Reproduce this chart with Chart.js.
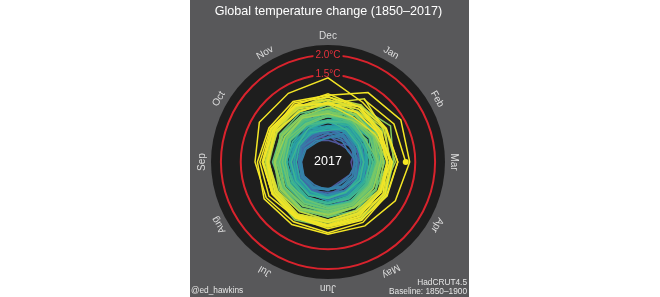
<!DOCTYPE html>
<html>
<head>
<meta charset="utf-8">
<script src="https://cdn.jsdelivr.net/npm/chart.js@4.4.1/dist/chart.umd.min.js"></script>
<style>
  html, body { margin: 0; padding: 0; background: #ffffff; }
  #panel { position: absolute; left: 190px; top: 0; width: 279px; height: 297px; background: #58585a; }
</style>
</head>
<body>
<div id="panel"><canvas id="spiral"></canvas></div>
<script>
// month labels, Jan sits 30 degrees clockwise from the top
const months = ['Jan', 'Feb', 'Mar', 'Apr', 'May', 'Jun', 'Jul', 'Aug', 'Sep', 'Oct', 'Nov', 'Dec'];

// temperature change vs 1850-1900 (degC)
const years = [1850, 1853, 1856, 1859, 1862, 1865, 1868, 1871, 1874, 1877, 1880, 1883, 1886, 1889, 1892, 1895, 1898,
  1901, 1904, 1907, 1910, 1913, 1916, 1919, 1922, 1925, 1928, 1931, 1934, 1937, 1940, 1943, 1946, 1949,
  1952, 1955, 1958, 1961, 1964, 1967, 1970, 1973, 1976,
  1978, 1979, 1980, 1981, 1982, 1983, 1984, 1985, 1986, 1987, 1988, 1989, 1990, 1991, 1992, 1993, 1994,
  1995, 1996, 1997, 1998, 1999, 2000, 2001, 2002, 2003, 2004, 2005, 2006, 2007, 2008, 2009, 2010, 2011,
  2012, 2013, 2014, 2015, 2016, 2017];

const anomalies = [
  [-0.18, 0.14, -0.12, 0.08, 0.02, 0.15, 0.22, 0.17, 0.05, -0.02, -0.06, 0.00],
  [0.17, 0.03, 0.24, 0.20, 0.14, 0.22, 0.27, 0.18, 0.12, 0.20, 0.22, 0.08],
  [0.08, 0.00, -0.06, 0.10, 0.02, 0.14, 0.08, 0.17, 0.05, -0.03, 0.02, -0.08],
  [0.24, 0.17, 0.27, 0.32, 0.22, 0.17, 0.24, 0.20, 0.14, 0.22, 0.08, 0.20],
  [-0.16, -0.10, 0.02, -0.06, -0.12, 0.00, 0.07, 0.02, -0.03, 0.04, -0.08, -0.15],
  [0.27, 0.17, 0.14, 0.24, 0.20, 0.12, 0.22, 0.17, 0.24, 0.14, 0.20, 0.12],
  [0.02, 0.17, 0.12, 0.22, 0.27, 0.20, 0.24, 0.14, 0.17, 0.12, 0.05, 0.14],
  [-0.03, 0.07, 0.22, 0.17, 0.12, 0.14, 0.20, 0.16, 0.10, 0.04, -0.03, 0.02],
  [0.22, 0.14, 0.07, 0.20, 0.24, 0.17, 0.12, 0.18, 0.22, 0.16, 0.12, 0.20],
  [0.17, 0.27, 0.24, 0.32, 0.37, 0.42, 0.40, 0.44, 0.50, 0.47, 0.52, 0.57],
  [0.27, 0.22, 0.17, 0.20, 0.14, 0.07, 0.14, 0.17, 0.10, 0.04, 0.02, 0.07],
  [0.10, 0.02, 0.07, 0.14, 0.17, 0.22, 0.12, 0.07, 0.02, 0.04, 0.07, 0.14],
  [0.02, 0.07, 0.14, 0.20, 0.17, 0.12, 0.18, 0.14, 0.17, 0.07, 0.10, 0.12],
  [0.22, 0.37, 0.30, 0.34, 0.27, 0.24, 0.22, 0.27, 0.20, 0.17, 0.12, 0.14],
  [-0.08, 0.02, -0.03, 0.07, 0.04, 0.14, 0.10, 0.07, 0.04, 0.00, -0.12, -0.06],
  [0.04, -0.03, 0.12, 0.17, 0.14, 0.16, 0.20, 0.14, 0.18, 0.12, 0.10, 0.17],
  [0.22, 0.07, 0.02, 0.14, 0.07, 0.12, 0.14, 0.10, 0.12, 0.02, 0.04, 0.10],
  [0.17, 0.12, 0.27, 0.24, 0.22, 0.27, 0.24, 0.20, 0.22, 0.17, 0.12, 0.14],
  [0.07, 0.02, -0.03, 0.00, -0.06, 0.02, -0.03, 0.00, 0.02, 0.07, 0.12, 0.04],
  [-0.03, -0.13, 0.02, -0.06, -0.08, 0.00, 0.02, 0.04, 0.00, 0.07, -0.03, 0.02],
  [0.04, 0.00, -0.03, 0.02, 0.00, -0.03, 0.02, 0.00, -0.03, -0.06, -0.13, -0.08],
  [0.07, 0.02, 0.04, 0.10, 0.02, 0.00, 0.04, 0.07, 0.04, 0.10, 0.17, 0.20],
  [0.14, 0.07, 0.02, 0.07, 0.04, 0.00, 0.07, 0.04, 0.00, -0.03, -0.08, -0.10],
  [0.22, 0.14, 0.17, 0.24, 0.14, 0.12, 0.20, 0.17, 0.22, 0.20, 0.10, 0.17],
  [0.17, 0.12, 0.22, 0.20, 0.17, 0.14, 0.18, 0.16, 0.14, 0.22, 0.20, 0.17],
  [0.14, 0.20, 0.24, 0.22, 0.20, 0.22, 0.24, 0.27, 0.24, 0.27, 0.32, 0.34],
  [0.32, 0.27, 0.22, 0.24, 0.22, 0.20, 0.27, 0.24, 0.26, 0.28, 0.27, 0.22],
  [0.26, 0.20, 0.23, 0.28, 0.30, 0.33, 0.36, 0.30, 0.28, 0.33, 0.26, 0.30],
  [0.18, 0.13, 0.20, 0.23, 0.26, 0.28, 0.23, 0.26, 0.23, 0.20, 0.22, 0.18],
  [0.23, 0.33, 0.26, 0.30, 0.33, 0.36, 0.38, 0.40, 0.43, 0.40, 0.36, 0.33],
  [0.33, 0.43, 0.38, 0.46, 0.43, 0.40, 0.48, 0.46, 0.50, 0.48, 0.46, 0.56],
  [0.28, 0.38, 0.30, 0.40, 0.36, 0.33, 0.38, 0.40, 0.36, 0.46, 0.43, 0.48],
  [0.38, 0.33, 0.26, 0.30, 0.20, 0.18, 0.26, 0.23, 0.28, 0.23, 0.26, 0.18],
  [0.26, 0.13, 0.20, 0.23, 0.18, 0.20, 0.23, 0.20, 0.26, 0.23, 0.18, 0.20],
  [0.38, 0.36, 0.28, 0.30, 0.33, 0.32, 0.36, 0.34, 0.36, 0.28, 0.26, 0.32],
  [0.26, 0.18, 0.13, 0.16, 0.20, 0.18, 0.23, 0.20, 0.16, 0.18, 0.13, 0.16],
  [0.58, 0.56, 0.48, 0.43, 0.46, 0.40, 0.44, 0.42, 0.40, 0.43, 0.46, 0.44],
  [0.46, 0.53, 0.48, 0.50, 0.46, 0.44, 0.42, 0.46, 0.40, 0.38, 0.43, 0.36],
  [0.28, 0.23, 0.20, 0.16, 0.18, 0.20, 0.16, 0.13, 0.10, 0.13, 0.16, 0.10],
  [0.36, 0.28, 0.38, 0.33, 0.30, 0.32, 0.34, 0.36, 0.33, 0.40, 0.33, 0.30],
  [0.43, 0.50, 0.38, 0.36, 0.34, 0.33, 0.32, 0.30, 0.36, 0.33, 0.38, 0.30],
  [0.53, 0.63, 0.60, 0.56, 0.53, 0.50, 0.48, 0.46, 0.44, 0.42, 0.38, 0.36],
  [0.23, 0.18, 0.20, 0.23, 0.18, 0.22, 0.26, 0.24, 0.23, 0.18, 0.28, 0.36],
  [0.40, 0.37, 0.43, 0.41, 0.37, 0.35, 0.39, 0.33, 0.40, 0.43, 0.50, 0.45],
  [0.43, 0.35, 0.45, 0.47, 0.43, 0.50, 0.45, 0.50, 0.53, 0.55, 0.60, 0.67],
  [0.53, 0.60, 0.50, 0.55, 0.57, 0.53, 0.50, 0.51, 0.49, 0.47, 0.53, 0.45],
  [0.70, 0.65, 0.63, 0.57, 0.55, 0.60, 0.57, 0.61, 0.55, 0.50, 0.57, 0.65],
  [0.40, 0.43, 0.35, 0.40, 0.45, 0.43, 0.47, 0.40, 0.45, 0.43, 0.45, 0.60],
  [0.67, 0.73, 0.65, 0.60, 0.63, 0.57, 0.55, 0.61, 0.57, 0.53, 0.60, 0.50],
  [0.45, 0.40, 0.50, 0.43, 0.53, 0.40, 0.43, 0.45, 0.47, 0.43, 0.37, 0.33],
  [0.47, 0.35, 0.43, 0.45, 0.47, 0.43, 0.40, 0.45, 0.43, 0.47, 0.40, 0.45],
  [0.50, 0.53, 0.51, 0.49, 0.47, 0.50, 0.45, 0.47, 0.45, 0.51, 0.49, 0.53],
  [0.53, 0.60, 0.50, 0.57, 0.60, 0.63, 0.67, 0.63, 0.70, 0.67, 0.65, 0.75],
  [0.77, 0.67, 0.73, 0.70, 0.71, 0.69, 0.65, 0.67, 0.63, 0.61, 0.57, 0.60],
  [0.47, 0.57, 0.55, 0.57, 0.50, 0.53, 0.57, 0.60, 0.55, 0.57, 0.53, 0.61],
  [0.58, 0.60, 0.82, 0.68, 0.62, 0.60, 0.64, 0.60, 0.56, 0.70, 0.72, 0.66],
  [0.65, 0.68, 0.58, 0.70, 0.62, 0.68, 0.70, 0.65, 0.62, 0.55, 0.58, 0.56],
  [0.58, 0.62, 0.55, 0.48, 0.50, 0.45, 0.40, 0.42, 0.38, 0.40, 0.38, 0.46],
  [0.55, 0.52, 0.54, 0.52, 0.50, 0.48, 0.50, 0.46, 0.45, 0.48, 0.42, 0.50],
  [0.52, 0.40, 0.58, 0.56, 0.55, 0.58, 0.54, 0.56, 0.60, 0.62, 0.64, 0.60],
  [0.70, 0.82, 0.66, 0.68, 0.62, 0.68, 0.70, 0.72, 0.66, 0.68, 0.65, 0.55],
  [0.52, 0.62, 0.55, 0.52, 0.55, 0.54, 0.58, 0.56, 0.52, 0.50, 0.60, 0.58],
  [0.55, 0.62, 0.68, 0.62, 0.70, 0.78, 0.72, 0.78, 0.85, 0.88, 0.85, 0.86],
  [0.92, 1.12, 0.95, 0.98, 0.96, 0.94, 0.98, 0.90, 0.82, 0.80, 0.76, 0.82],
  [0.78, 0.90, 0.62, 0.62, 0.60, 0.62, 0.68, 0.64, 0.66, 0.64, 0.62, 0.68],
  [0.52, 0.72, 0.70, 0.78, 0.62, 0.64, 0.66, 0.68, 0.64, 0.56, 0.58, 0.52],
  [0.68, 0.65, 0.80, 0.76, 0.78, 0.80, 0.82, 0.84, 0.78, 0.80, 0.88, 0.80],
  [0.96, 0.98, 1.00, 0.84, 0.82, 0.84, 0.86, 0.80, 0.82, 0.78, 0.80, 0.74],
  [0.96, 0.84, 0.80, 0.80, 0.82, 0.80, 0.84, 0.90, 0.88, 0.96, 0.84, 0.94],
  [0.84, 0.96, 0.86, 0.84, 0.72, 0.76, 0.74, 0.76, 0.80, 0.86, 0.92, 0.78],
  [0.90, 0.80, 0.92, 0.94, 0.90, 0.92, 0.94, 0.88, 0.92, 0.94, 0.90, 0.86],
  [0.76, 0.86, 0.80, 0.80, 0.78, 0.88, 0.86, 0.88, 0.86, 0.92, 0.88, 0.96],
  [1.14, 0.92, 0.88, 0.92, 0.84, 0.80, 0.82, 0.80, 0.82, 0.80, 0.76, 0.78],
  [0.60, 0.68, 0.92, 0.76, 0.74, 0.76, 0.82, 0.78, 0.80, 0.88, 0.84, 0.76],
  [0.84, 0.80, 0.78, 0.82, 0.84, 0.88, 0.94, 0.92, 0.94, 0.90, 0.92, 0.88],
  [0.92, 0.98, 1.06, 1.02, 0.98, 0.94, 0.92, 0.90, 0.84, 0.86, 0.96, 0.76],
  [0.74, 0.76, 0.80, 0.84, 0.80, 0.82, 0.86, 0.84, 0.82, 0.84, 0.76, 0.82],
  [0.74, 0.76, 0.80, 0.90, 0.94, 0.92, 0.90, 0.92, 0.96, 0.96, 0.94, 0.78],
  [0.90, 0.84, 0.86, 0.82, 0.88, 0.90, 0.88, 0.92, 0.94, 0.90, 1.02, 0.94],
  [0.90, 0.76, 0.92, 0.96, 1.00, 0.98, 0.92, 1.02, 1.02, 0.98, 0.96, 1.02],
  [1.04, 1.00, 1.06, 1.00, 1.06, 1.08, 1.04, 1.10, 1.14, 1.30, 1.30, 1.42],
  [1.32, 1.42, 1.36, 1.26, 1.16, 1.12, 1.12, 1.16, 1.08, 1.02, 1.06, 0.98],
  [1.12, 1.22, 1.26, null, null, null, null, null, null, null, null, null]
];

const ringValues = [1.5, 2.0];
const ringLabels = ['1.5°C', '2.0°C'];
const currentYear = '2017';

// colour by year, purple -> blue -> teal -> green -> yellow
const colourStops = [
  [0.00, [84, 78, 150]],
  [0.25, [64, 108, 168]],
  [0.45, [46, 142, 170]],
  [0.65, [40, 170, 160]],
  [0.80, [72, 186, 138]],
  [0.88, [126, 202, 98]],
  [0.94, [214, 222, 50]],
  [0.97, [240, 228, 40]],
  [1.00, [246, 232, 36]]
];
function yearColour(y) {
  const t = (y - years[0]) / (years[years.length - 1] - years[0]);
  for (let i = 1; i < colourStops.length; i++) {
    const [t1, c1] = colourStops[i];
    const [t0, c0] = colourStops[i - 1];
    if (t <= t1) {
      const f = (t - t0) / (t1 - t0);
      const c = c0.map((v, k) => Math.round(v + (c1[k] - v) * f));
      return `rgb(${c[0]},${c[1]},${c[2]})`;
    }
  }
  return 'rgb(246,232,36)';
}

const FONT = '"Liberation Sans", Arial, Helvetica, sans-serif';
Chart.defaults.font.family = FONT;

const datasets = years.map((y, i) => ({
  label: String(y),
  data: anomalies[i],
  borderColor: yearColour(y),
  borderWidth: 1.5,
  fill: false,
  tension: 0,
  spanGaps: false,
  pointRadius: y === 2017 ? [0, 0, 3] : 0,
  pointBackgroundColor: yearColour(y),
  pointBorderWidth: 0,
  order: years.length - i
}));

const decor = {
  id: 'decor',
  beforeDatasetsDraw(chart) {
    const r = chart.scales.r, ctx = chart.ctx;
    ctx.save();
    ringValues.forEach((v, i) => {
      const d = r.getDistanceFromCenterForValue(v);
      ctx.beginPath();
      ctx.arc(r.xCenter, r.yCenter, d, 0, Math.PI * 2);
      ctx.strokeStyle = '#d9232d';
      ctx.lineWidth = 2;
      ctx.stroke();
      ctx.font = '10px ' + FONT;
      const w = ctx.measureText(ringLabels[i]).width + 4;
      ctx.fillStyle = '#1e1e1e';
      ctx.fillRect(r.xCenter - w / 2, r.yCenter - d - 4, w, 8);
      ctx.fillStyle = '#e8323c';
      ctx.textAlign = 'center';
      ctx.textBaseline = 'middle';
      ctx.fillText(ringLabels[i], r.xCenter, r.yCenter - d);
    });
    ctx.restore();
  },
  afterDraw(chart) {
    const r = chart.scales.r, ctx = chart.ctx;
    ctx.save();
    ctx.textAlign = 'center';
    ctx.textBaseline = 'middle';
    ctx.font = '10px ' + FONT;
    ctx.fillStyle = '#dcdcdc';
    months.forEach((m, i) => {
      const p = r.getPointPosition(i, 126);
      ctx.save();
      ctx.translate(p.x, p.y);
      ctx.rotate(r.getIndexAngle(i));
      ctx.fillText(m, 0, 0);
      ctx.restore();
    });
    ctx.font = '12.5px ' + FONT;
    ctx.fillStyle = '#ffffff';
    ctx.fillText(currentYear, r.xCenter, r.yCenter);

    ctx.font = '8.3px ' + FONT;
    ctx.fillStyle = '#e6e6e6';
    ctx.textAlign = 'right';
    ctx.fillText('HadCRUT4.5', chart.width - 2, 283);
    ctx.fillText('Baseline: 1850–1900', chart.width - 2, 292);
    ctx.textAlign = 'left';
    ctx.fillText('@ed_hawkins', 1, 291);
    ctx.restore();
  }
};

new Chart(document.getElementById('spiral'), {
  type: 'radar',
  data: { labels: months, datasets: datasets },
  options: {
    responsive: true,
    maintainAspectRatio: false,
    animation: false,
    events: [],
    layout: { padding: { top: 0, left: 21, right: 23, bottom: 17 } },
    plugins: {
      legend: { display: false },
      tooltip: { enabled: false },
      title: {
        display: true,
        text: 'Global temperature change (1850–2017)',
        color: '#ffffff',
        font: { size: 12.6, weight: 'normal' },
        padding: { top: 4, bottom: 25 }
      }
    },
    scales: {
      r: {
        min: -0.7,
        max: 2.25,
        startAngle: 30,
        backgroundColor: '#1e1e1e',
        grid: { display: false, circular: true },
        angleLines: { display: false },
        ticks: { display: false },
        pointLabels: { display: false }
      }
    }
  },
  plugins: [decor]
});
</script>
</body>
</html>
